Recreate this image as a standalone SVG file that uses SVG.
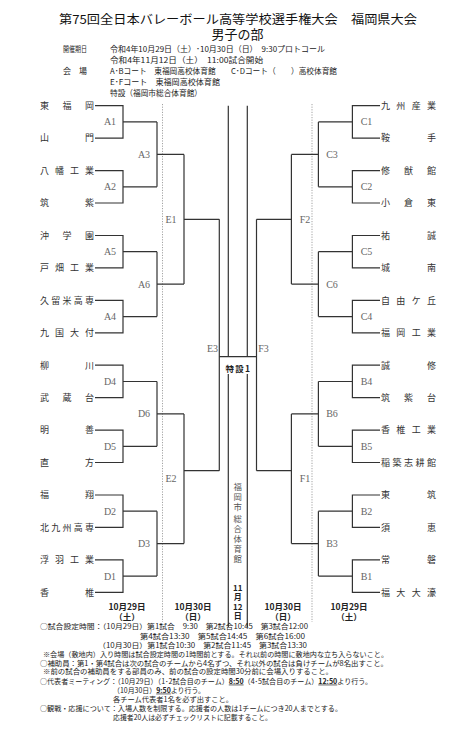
<svg xmlns="http://www.w3.org/2000/svg" width="474" height="731" viewBox="0 0 474 731">
<style>
text{font-family:"Noto Sans CJK JP","Noto Sans",sans-serif;fill:#222}
.title{font-size:12.4px;fill:#111}
.info{font-size:8px}
.team{font-size:9px;fill:#333}
.lbl{font-family:"Liberation Serif","Noto Sans CJK JP",serif;font-size:10px;fill:#666;text-anchor:middle}
.date{font-size:8.5px;font-weight:bold;text-anchor:middle;fill:#222}
.note{font-size:7px;fill:#222}
.ul{font-weight:bold;text-decoration:underline}
.ln{stroke:#333;stroke-width:1.2;fill:none}
.dot{stroke:#999;stroke-width:0.9;stroke-dasharray:1.2 1.4;fill:none}
.venue{font-size:8.4px;fill:#555;text-anchor:middle}
</style>
<rect width="474" height="731" fill="#fff"/>
<g id="header">
<text class="title" x="59" y="24.3" textLength="358" lengthAdjust="spacingAndGlyphs">第75回全日本バレーボール高等学校選手権大会　福岡県大会</text>
<text class="title" x="237.5" y="39" text-anchor="middle" style="font-size:13px">男子の部</text>
<text class="info" x="63" y="52.3" textLength="24" lengthAdjust="spacingAndGlyphs">開催期日</text>
<text class="info" x="110" y="52.3" textLength="215" lengthAdjust="spacingAndGlyphs">令和4年10月29日（土）･10月30日（日）　9:30プロトコール</text>
<text class="info" x="110" y="63" textLength="153" lengthAdjust="spacingAndGlyphs">令和4年11月12日（土）　11:00試合開始</text>
<text class="info" x="63" y="74.3" textLength="24" lengthAdjust="spacing">会　　場</text>
<text class="info" x="110" y="74.3" textLength="227" lengthAdjust="spacingAndGlyphs">A･Bコート　東福岡高校体育館　　C･Dコート（　　）高校体育館</text>
<text class="info" x="110" y="85" textLength="110" lengthAdjust="spacingAndGlyphs">E･Fコート　東福岡高校体育館</text>
<text class="info" x="110" y="95.5" textLength="92" lengthAdjust="spacingAndGlyphs">特設（福岡市総合体育館）</text>
</g>
<g id="connectors">
<path class="dot" d="M162.5 104V622M312 104V622"/>
<path class="ln" d="M228.3 105.7V356.7M247.3 105.7V356.7M228.3 374V627M247.3 374V627"/>
<path class="ln" d="M95 105.7H123V138.1H95M123 121.9H157"/>
<path class="ln" d="M95 170.6H123V203H95M123 186.8H157"/>
<path class="ln" d="M95 235.5H123V267.9H95M123 251.7H157"/>
<path class="ln" d="M95 300.3H123V332.8H95M123 316.6H157"/>
<path class="ln" d="M95 365.2H123V397.7H95M123 381.5H157"/>
<path class="ln" d="M95 430.1H123V462.5H95M123 446.3H157"/>
<path class="ln" d="M95 495H123V527.4H95M123 511.2H157"/>
<path class="ln" d="M95 559.9H123V592.3H95M123 576.1H157"/>
<path class="ln" d="M157 121.9V186.8M157 154.4H184"/>
<path class="ln" d="M157 251.7V316.6M157 284.1H184"/>
<path class="ln" d="M157 381.5V446.3M157 413.9H184"/>
<path class="ln" d="M157 511.2V576.1M157 543.6H184"/>
<path class="ln" d="M184 154.4V284.1M184 219.3H219.3"/>
<path class="ln" d="M184 413.9V543.6M184 470.7H219.3"/>
<path class="ln" d="M219.3 219.3V470.7"/>
<path class="ln" d="M219.3 356.7H256.5"/>
<path class="ln" d="M380 105.7H352.4V138.1H380M352.4 121.9H318.4"/>
<path class="ln" d="M380 170.6H352.4V203H380M352.4 186.8H318.4"/>
<path class="ln" d="M380 235.5H352.4V267.9H380M352.4 251.7H318.4"/>
<path class="ln" d="M380 300.3H352.4V332.8H380M352.4 316.6H318.4"/>
<path class="ln" d="M380 365.2H352.4V397.7H380M352.4 381.5H318.4"/>
<path class="ln" d="M380 430.1H352.4V462.5H380M352.4 446.3H318.4"/>
<path class="ln" d="M380 495H352.4V527.4H380M352.4 511.2H318.4"/>
<path class="ln" d="M380 559.9H352.4V592.3H380M352.4 576.1H318.4"/>
<path class="ln" d="M318.4 121.9V186.8M318.4 154.4H291.4"/>
<path class="ln" d="M318.4 251.7V316.6M318.4 284.1H291.4"/>
<path class="ln" d="M318.4 381.5V446.3M318.4 413.9H291.4"/>
<path class="ln" d="M318.4 511.2V576.1M318.4 543.6H291.4"/>
<path class="ln" d="M291.4 154.4V284.1M291.4 219.3H256.5"/>
<path class="ln" d="M291.4 413.9V543.6M291.4 470.7H256.5"/>
<path class="ln" d="M256.5 219.3V470.7"/>
</g>
<g id="teams-left">
<text class="team" x="40" y="109" textLength="54" lengthAdjust="spacing">東福岡</text>
<text class="team" x="40" y="141.4" textLength="54" lengthAdjust="spacing">山門</text>
<text class="team" x="40" y="173.9" textLength="54" lengthAdjust="spacing">八幡工業</text>
<text class="team" x="40" y="206.3" textLength="54" lengthAdjust="spacing">筑紫</text>
<text class="team" x="40" y="238.8" textLength="54" lengthAdjust="spacing">沖学園</text>
<text class="team" x="40" y="271.2" textLength="54" lengthAdjust="spacing">戸畑工業</text>
<text class="team" x="40" y="303.6" textLength="54" lengthAdjust="spacing">久留米高専</text>
<text class="team" x="40" y="336.1" textLength="54" lengthAdjust="spacing">九国大付</text>
<text class="team" x="40" y="368.5" textLength="54" lengthAdjust="spacing">柳川</text>
<text class="team" x="40" y="401" textLength="54" lengthAdjust="spacing">武蔵台</text>
<text class="team" x="40" y="433.4" textLength="54" lengthAdjust="spacing">明善</text>
<text class="team" x="40" y="465.8" textLength="54" lengthAdjust="spacing">直方</text>
<text class="team" x="40" y="498.3" textLength="54" lengthAdjust="spacing">福翔</text>
<text class="team" x="40" y="530.7" textLength="54" lengthAdjust="spacing">北九州高専</text>
<text class="team" x="40" y="563.2" textLength="54" lengthAdjust="spacing">浮羽工業</text>
<text class="team" x="40" y="595.6" textLength="54" lengthAdjust="spacing">香椎</text>
</g>
<g id="teams-right">
<text class="team" x="381" y="109" textLength="55" lengthAdjust="spacing">九州産業</text>
<text class="team" x="381" y="141.4" textLength="55" lengthAdjust="spacing">鞍手</text>
<text class="team" x="381" y="173.9" textLength="55" lengthAdjust="spacing">修猷館</text>
<text class="team" x="381" y="206.3" textLength="55" lengthAdjust="spacing">小倉東</text>
<text class="team" x="381" y="238.8" textLength="55" lengthAdjust="spacing">祐誠</text>
<text class="team" x="381" y="271.2" textLength="55" lengthAdjust="spacing">城南</text>
<text class="team" x="381" y="303.6" textLength="55" lengthAdjust="spacing">自由ケ丘</text>
<text class="team" x="381" y="336.1" textLength="55" lengthAdjust="spacing">福岡工業</text>
<text class="team" x="381" y="368.5" textLength="55" lengthAdjust="spacing">誠修</text>
<text class="team" x="381" y="401" textLength="55" lengthAdjust="spacing">筑紫台</text>
<text class="team" x="381" y="433.4" textLength="55" lengthAdjust="spacing">香椎工業</text>
<text class="team" x="381" y="465.8" textLength="55" lengthAdjust="spacing">稲築志耕館</text>
<text class="team" x="381" y="498.3" textLength="55" lengthAdjust="spacing">東筑</text>
<text class="team" x="381" y="530.7" textLength="55" lengthAdjust="spacing">須恵</text>
<text class="team" x="381" y="563.2" textLength="55" lengthAdjust="spacing">常磐</text>
<text class="team" x="381" y="595.6" textLength="55" lengthAdjust="spacing">福大大濠</text>
</g>
<g id="matches-left">
<text class="lbl" x="110" y="125.3">A1</text>
<text class="lbl" x="110" y="190.2">A2</text>
<text class="lbl" x="110" y="255.1">A5</text>
<text class="lbl" x="110" y="320">A4</text>
<text class="lbl" x="110" y="384.9">D4</text>
<text class="lbl" x="110" y="449.7">D5</text>
<text class="lbl" x="110" y="514.6">D2</text>
<text class="lbl" x="110" y="579.5">D1</text>
<text class="lbl" x="144" y="158.4">A3</text>
<text class="lbl" x="144" y="287.5">A6</text>
<text class="lbl" x="144" y="417.3">D6</text>
<text class="lbl" x="144" y="547">D3</text>
<text class="lbl" x="171" y="222.7">E1</text>
<text class="lbl" x="171" y="482.4">E2</text>
<text class="lbl" x="212.5" y="352.4">E3</text>
</g>
<g id="matches-right">
<text class="lbl" x="366.5" y="125.3">C1</text>
<text class="lbl" x="366.5" y="190.2">C2</text>
<text class="lbl" x="366.5" y="255.1">C5</text>
<text class="lbl" x="366.5" y="320">C4</text>
<text class="lbl" x="366.5" y="384.9">B4</text>
<text class="lbl" x="366.5" y="449.7">B5</text>
<text class="lbl" x="366.5" y="514.6">B2</text>
<text class="lbl" x="366.5" y="579.5">B1</text>
<text class="lbl" x="332" y="158.4">C3</text>
<text class="lbl" x="332" y="287.5">C6</text>
<text class="lbl" x="332" y="417.3">B6</text>
<text class="lbl" x="332" y="547">B3</text>
<text class="lbl" x="305" y="222.7">F2</text>
<text class="lbl" x="305" y="482.4">F1</text>
<text class="lbl" x="263.5" y="352.4">F3</text>
</g>
<g id="final">
<text x="225.5" y="371.5" textLength="24.5" lengthAdjust="spacing" style="font-size:8.5px;font-weight:bold;fill:#222">特設1</text>
<text class="venue" x="237.8" y="490"><tspan x="237.8" y="490">福</tspan><tspan x="237.8" y="500.2">岡</tspan><tspan x="237.8" y="510.4">市</tspan><tspan x="237.8" y="521.6">総</tspan><tspan x="237.8" y="531.8">合</tspan><tspan x="237.8" y="542">体</tspan><tspan x="237.8" y="552.2">育</tspan><tspan x="237.8" y="562.4">館</tspan></text>
<text class="date" x="237.8" y="591" style="font-size:8px"><tspan x="237.8" y="591">11</tspan><tspan x="237.8" y="600">月</tspan><tspan x="237.8" y="610.3">12</tspan><tspan x="237.8" y="619.3">日</tspan></text>
</g>
<g id="dates">
<text class="date" x="127" y="610">10月29日</text>
<text class="date" x="127" y="620">（土）</text>
<text class="date" x="193" y="610">10月30日</text>
<text class="date" x="193" y="620">（日）</text>
<text class="date" x="283" y="610">10月30日</text>
<text class="date" x="283" y="620">（日）</text>
<text class="date" x="349" y="610">10月29日</text>
<text class="date" x="349" y="620">（土）</text>
</g>
<g id="notes">
<text class="note" x="40" y="629.3" textLength="268" lengthAdjust="spacingAndGlyphs">○試合設定時間：（10月29日）第1試合　9:30　第2試合10:45　第3試合12:00</text>
<text class="note" x="140" y="639.2" textLength="165" lengthAdjust="spacingAndGlyphs">第4試合13:30　第5試合14:45　第6試合16:00</text>
<text class="note" x="98" y="647.7" textLength="209" lengthAdjust="spacingAndGlyphs">（10月30日）第1試合10:30　第2試合11:45　第3試合13:30</text>
<text class="note" x="43" y="656.7" textLength="345" lengthAdjust="spacingAndGlyphs">※会場（敷地内）入り時間は試合設定時間の1時間前とする。それ以前の時間に敷地内な立ち入らないこと。</text>
<text class="note" x="40" y="665.9" textLength="348" lengthAdjust="spacingAndGlyphs">○補助員：第1・第4試合は次の試合のチームから4名ずつ、それ以外の試合は負けチームが8名出すこと。</text>
<text class="note" x="43" y="674.3" textLength="290" lengthAdjust="spacingAndGlyphs">※前の試合の補助員をする部員のみ、前の試合の設定時間30分前に会場入りすること。</text>
<text class="note" x="40" y="683.6" textLength="332" lengthAdjust="spacingAndGlyphs">○代表者ミーティング：（10月29日）（1･2試合目のチーム）<tspan class="ul">8:50</tspan>（4･5試合目のチーム）<tspan class="ul">12:50</tspan>より行う。</text>
<text class="note" x="113" y="692.6" textLength="92" lengthAdjust="spacingAndGlyphs">（10月30日）<tspan class="ul">9:50</tspan>より行う。</text>
<text class="note" x="113" y="701.9" textLength="120" lengthAdjust="spacingAndGlyphs">各チーム代表者1名を必ず出すこと。</text>
<text class="note" x="40" y="710.9" textLength="302" lengthAdjust="spacingAndGlyphs">○観戦・応援について：入場人数を制限する。応援者の人数は1チームにつき20人までとする。</text>
<text class="note" x="113" y="719.9" textLength="159" lengthAdjust="spacingAndGlyphs">応援者20人は必ずチェックリストに記載すること。</text>
</g>
</svg>
